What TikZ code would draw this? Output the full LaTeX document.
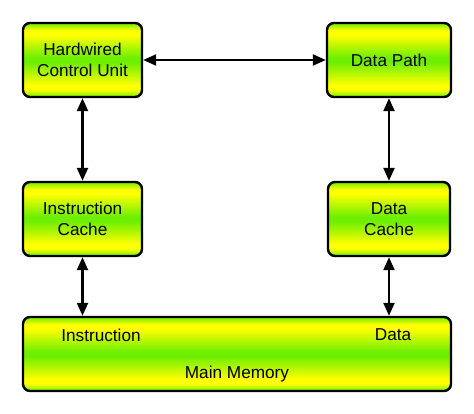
\documentclass[tikz,border=0pt]{standalone}
\usepackage{fontspec}
\setmainfont{Liberation Sans}
\usetikzlibrary{arrows.meta}
\definecolor{gg}{RGB}{110,238,0}
\definecolor{yy}{RGB}{255,255,0}
\pgfdeclareverticalshading{ybar}{100bp}{color(0bp)=(gg); color(25bp)=(gg); color(30bp)=(yy); color(33bp)=(yy); color(48.5bp)=(gg); color(51.5bp)=(gg); color(67bp)=(yy); color(70bp)=(yy); color(75bp)=(gg); color(100bp)=(gg)}
\begin{document}
\begin{tikzpicture}[x=1pt,y=-1pt,
  blk/.style={draw=black, line width=2.4pt, rounded corners=7pt, shading=ybar, shade,
    align=center, inner sep=0pt, font=\fontsize{17.2}{20.5}\selectfont},
  biarrow/.style={line width=2.3pt, {Triangle[length=13pt,width=11pt]}-{Triangle[length=13pt,width=11pt]}},
  lbl/.style={font=\fontsize{17.2}{20.5}\selectfont, inner sep=0pt}]
\useasboundingbox (0,0) rectangle (474,414);
\node[blk, minimum width=119pt, minimum height=74pt] (hw) at (82.5,60) {Hardwired\\Control Unit};
\node[blk, minimum width=124pt, minimum height=74pt] (dp) at (389,60) {Data Path};
\node[blk, minimum width=119pt, minimum height=74pt] (ic) at (82.5,219) {Instruction\\Cache};
\node[blk, minimum width=122pt, minimum height=74pt] (dc) at (389,219) {Data\\Cache};
\node[blk, minimum width=428pt, minimum height=74pt] (mm) at (237,354) {};
\node[lbl] (li) at (101,335) {Instruction};
\node[lbl] (ld) at (393,335) {Data};
\node[lbl] (lm) at (237,374) {Main Memory};
\draw[biarrow] (hw.east) -- (dp.west);
\draw[biarrow] (hw.south) -- (ic.north);
\draw[biarrow] (dp.south) -- (dc.north);
\draw[biarrow] (ic.south) -- (ic.south |- mm.north);
\draw[biarrow] (dc.south) -- (dc.south |- mm.north);
\end{tikzpicture}
\end{document}
